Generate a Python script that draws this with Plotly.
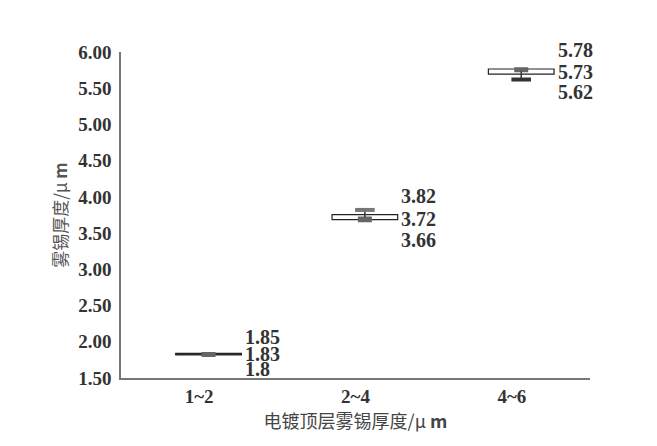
import plotly.graph_objects as go

# thickness groups and the three values printed next to each marker
categories = ["1~2", "2~4", "4~6"]
upper_vals = [1.85, 3.82, 5.78]
mid_vals = [1.83, 3.72, 5.73]
lower_vals = [1.80, 3.66, 5.62]

# grey box bounds and whisker end for each group
box_bottom = [1.80, 3.66, 5.73]
box_top = [1.85, 3.72, 5.78]
whisker_end = [None, 3.82, 5.62]

serif = "Liberation Serif, Times New Roman, serif"
cjk = "Noto Sans CJK SC, sans-serif"

pos = list(range(len(categories)))
shift = 0.06
xs = [p + shift for p in pos]

fig = go.Figure()

# wide median marker (hollow rectangle, thin black line for first group)
mark_h = [0.02, 0.07, 0.07]
fig.add_trace(go.Bar(
    x=xs, y=mark_h, base=[m - h / 2 for m, h in zip(mid_vals, mark_h)],
    width=0.42,
    marker=dict(color=["#222222", "white", "white"], line=dict(color="#222222", width=1.2)),
    showlegend=False, hoverinfo="skip",
))

# whiskers
for x, m, e in zip(xs, mid_vals, whisker_end):
    if e is None:
        continue
    fig.add_trace(go.Scatter(
        x=[x, x], y=[m, e], mode="lines",
        line=dict(color="#333333", width=1.5),
        showlegend=False, hoverinfo="skip",
    ))

# grey box
fig.add_trace(go.Bar(
    x=xs, y=[t - b for t, b in zip(box_top, box_bottom)], base=box_bottom,
    width=0.08,
    marker=dict(color="#666666", line=dict(color="#666666", width=1.5)),
    showlegend=False, hoverinfo="skip",
))

# whisker caps
cap_x = [x for x, e in zip(xs, whisker_end) if e is not None]
cap_y = [e for e in whisker_end if e is not None]
fig.add_trace(go.Scatter(
    x=cap_x, y=cap_y, mode="markers",
    marker=dict(symbol="line-ew", size=14,
                line=dict(color=["#777777", "#333333"], width=4)),
    showlegend=False, hoverinfo="skip",
))

# value labels
shifts = [(17, 0, -15), (21, -2, -23), (22, 0, -20)]
for x, u, m, l, s in zip(xs, upper_vals, mid_vals, lower_vals, shifts):
    for v, ys in zip((u, m, l), s):
        fig.add_annotation(
            x=x + 0.22, y=m, text=str(v), showarrow=False,
            xanchor="left", yanchor="middle", yshift=ys,
            font=dict(family=serif, size=20, color="#333333", weight="bold"),
        )

fig.update_layout(
    width=657, height=446,
    margin=dict(l=113, r=75, t=44, b=76),
    paper_bgcolor="white", plot_bgcolor="white",
    barmode="overlay",
    xaxis=dict(
        range=[-0.5, 2.5], tickvals=pos, ticktext=categories,
        showline=True, linecolor="#777777", linewidth=1.5,
        showgrid=False, zeroline=False, ticks="",
        tickfont=dict(family=serif, size=19, color="#333333", weight="bold"),
        title=dict(text="电镀顶层雾锡厚度/μ <b>m</b>", standoff=8,
                   font=dict(family=cjk, size=18, color="#444444")),
    ),
    yaxis=dict(
        range=[1.5, 6.0], tickvals=[1.5, 2.0, 2.5, 3.0, 3.5, 4.0, 4.5, 5.0, 5.5, 6.0],
        tickformat=".2f",
        showline=True, linecolor="#777777", linewidth=1.5,
        showgrid=False, zeroline=False, ticks="", ticklabelstandoff=4,
        tickfont=dict(family=serif, size=19, color="#333333", weight="bold"),
        title=dict(text="雾锡厚度/μ <b>m</b>", standoff=6,
                   font=dict(family=cjk, size=17, color="#555555")),
    ),
)

fig.write_html("out.html")
